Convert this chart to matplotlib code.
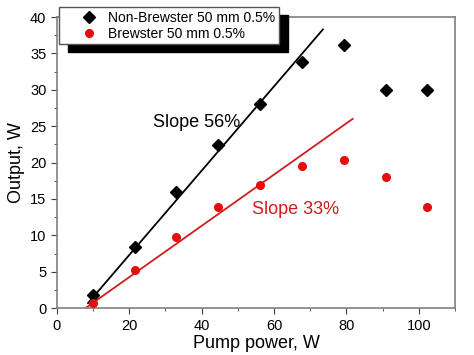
import matplotlib
matplotlib.use("Agg")
import matplotlib.pyplot as plt
from matplotlib.ticker import MultipleLocator

plt.rcParams['font.family'] = ['Liberation Sans', 'DejaVu Sans']

# pump power, W
pump = [10.0, 21.5, 33.0, 44.6, 56.1, 67.7, 79.2, 90.8, 102.3]
# output power, W
out_nonbrewster = [1.8, 8.4, 15.9, 22.4, 28.1, 33.8, 36.2, 30.0, 30.0]
out_brewster = [0.7, 5.2, 9.75, 13.9, 16.95, 19.5, 20.4, 18.0, 13.9]

# linear fits (end points)
fit_black_x = [8.6, 73.5]
fit_black_y = [0.7, 38.3]
fit_red_x = [7.9, 81.7]
fit_red_y = [0.0, 26.0]

red_pt = '#e60d0d'
red_ln = '#d01c1c'

fig = plt.figure(figsize=(4.74, 3.55), dpi=100)
ax = fig.add_axes([0.120, 0.132, 0.840, 0.820])

ax.plot(fit_black_x, fit_black_y, color='black', lw=1.3, zorder=2)
ax.plot(fit_red_x, fit_red_y, color=red_ln, lw=1.3, zorder=2)
ax.plot(pump, out_nonbrewster, 'D', color='black', ms=5.8, ls='none',
        label='Non-Brewster 50 mm 0.5%', zorder=3)
ax.plot(pump, out_brewster, 'o', color=red_pt, ms=5.5, ls='none',
        label='Brewster 50 mm 0.5%', zorder=3)

ax.text(26.6, 25.5, 'Slope 56%', fontsize=13, color='black', va='center')
ax.text(54.0, 13.6, 'Slope 33%', fontsize=13, color=red_ln, va='center')

ax.set_xlim(0, 110)
ax.set_ylim(0, 40)
ax.xaxis.set_major_locator(MultipleLocator(20))
ax.xaxis.set_minor_locator(MultipleLocator(10))
ax.yaxis.set_major_locator(MultipleLocator(5))
ax.yaxis.set_minor_locator(MultipleLocator(2.5))
ax.tick_params(which='both', direction='out', labelsize=10.5, color='#404040')
ax.tick_params(which='major', length=4)
ax.tick_params(which='minor', length=2.5)
for s in ax.spines.values():
    s.set_color('#808080')
    s.set_linewidth(1.2)

ax.set_xlabel('Pump power, W', fontsize=13, labelpad=2)
ax.set_ylabel('Output, W', fontsize=13, labelpad=4)

leg = fig.legend(loc='upper left', bbox_to_anchor=(0.1245, 0.98),
                 fontsize=10, fancybox=False, framealpha=1,
                 edgecolor='#555555', labelspacing=0.15, borderpad=0.25,
                 handletextpad=-0.45, handlelength=3.75, borderaxespad=0,
                 shadow={'ox': 6.5, 'oy': -5.8, 'facecolor': 'black',
                         'edgecolor': 'black', 'alpha': 1})
leg.get_frame().set_linewidth(1.0)

fig.savefig('out.png', dpi=100)
